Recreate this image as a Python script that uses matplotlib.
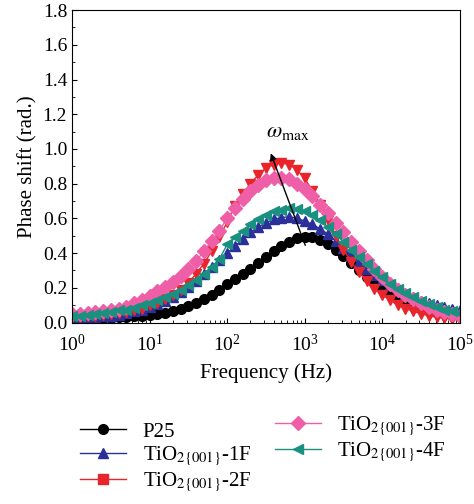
import numpy as np
import matplotlib.pyplot as plt
from matplotlib.lines import Line2D
from matplotlib.ticker import MultipleLocator

plt.rcParams['font.family'] = ['Liberation Serif', 'DejaVu Serif']
plt.rcParams['mathtext.fontset'] = 'stix'

# log10 of frequency, 0.1 decade steps from 1 Hz to 100 kHz
log_freq = np.arange(51) / 10.0

p25 = [0.02, 0.02, 0.02, 0.02, 0.025, 0.025, 0.03, 0.03, 0.035, 0.04, 0.045,
       0.05, 0.057, 0.066, 0.077, 0.097, 0.115, 0.135, 0.16, 0.19, 0.22,
       0.25, 0.28, 0.31, 0.345, 0.38, 0.41, 0.44, 0.465, 0.485, 0.495,
       0.49, 0.475, 0.45, 0.42, 0.385, 0.345, 0.305, 0.265, 0.23, 0.195,
       0.165, 0.14, 0.12, 0.10, 0.085, 0.072, 0.062, 0.053, 0.046, 0.04]
f1 = [0.02, 0.02, 0.025, 0.03, 0.035, 0.04, 0.045, 0.055, 0.065, 0.075, 0.09,
      0.105, 0.125, 0.15, 0.175, 0.205, 0.24, 0.28, 0.32, 0.36, 0.40,
      0.44, 0.48, 0.52, 0.55, 0.575, 0.595, 0.605, 0.61, 0.60, 0.585,
      0.565, 0.54, 0.51, 0.47, 0.43, 0.39, 0.35, 0.31, 0.275, 0.245,
      0.215, 0.19, 0.165, 0.145, 0.125, 0.11, 0.10, 0.09, 0.08, 0.07]
f2 = [0.03, 0.03, 0.035, 0.04, 0.045, 0.05, 0.055, 0.06, 0.07, 0.08, 0.10,
      0.115, 0.135, 0.16, 0.19, 0.23, 0.28, 0.34, 0.41, 0.49, 0.58,
      0.67, 0.74, 0.80, 0.85, 0.89, 0.91, 0.92, 0.91, 0.88, 0.83,
      0.76, 0.68, 0.59, 0.50, 0.42, 0.35, 0.29, 0.24, 0.195, 0.16,
      0.13, 0.10, 0.08, 0.065, 0.05, 0.04, 0.03, 0.025, 0.02, 0.015]
f3 = [0.05, 0.05, 0.055, 0.06, 0.065, 0.07, 0.08, 0.09, 0.11, 0.13, 0.155,
      0.18, 0.205, 0.235, 0.27, 0.31, 0.355, 0.41, 0.47, 0.53, 0.60,
      0.66, 0.71, 0.76, 0.795, 0.82, 0.835, 0.835, 0.825, 0.80, 0.77,
      0.73, 0.68, 0.63, 0.575, 0.52, 0.465, 0.41, 0.36, 0.31, 0.265,
      0.225, 0.19, 0.16, 0.135, 0.11, 0.09, 0.075, 0.06, 0.05, 0.04]
f4 = [0.04, 0.04, 0.045, 0.05, 0.055, 0.06, 0.07, 0.075, 0.085, 0.10, 0.115,
      0.13, 0.145, 0.165, 0.19, 0.215, 0.245, 0.28, 0.32, 0.365, 0.45,
      0.49, 0.53, 0.565, 0.595, 0.62, 0.64, 0.65, 0.66, 0.655, 0.64,
      0.62, 0.59, 0.55, 0.51, 0.465, 0.42, 0.375, 0.335, 0.295, 0.26,
      0.225, 0.195, 0.17, 0.145, 0.125, 0.105, 0.09, 0.075, 0.065, 0.055]

series = [
    ("P25", p25, "black", "o", "o"),
    ("TiO$_{2\\{001\\}}$-1F", f1, "#2b2f9a", "^", "^"),
    ("TiO$_{2\\{001\\}}$-2F", f2, "#e8252a", "v", "s"),
    ("TiO$_{2\\{001\\}}$-3F", f3, "#ef5fa7", "D", "D"),
    ("TiO$_{2\\{001\\}}$-4F", f4, "#1a9080", "<", "<"),
]

fig = plt.figure(figsize=(4.74, 5.04), dpi=100)
ax = fig.add_axes([0.152, 0.36, 0.818, 0.62])
freq = 10 ** log_freq
handles = []
for label, vals, color, marker, legmarker in series:
    ax.plot(freq, vals, color=color, marker=marker, markersize=7,
            linestyle='-', linewidth=1)
    handles.append(Line2D([], [], color=color, marker=legmarker,
                          markersize=7, linewidth=1, label=label))

ax.set_xscale('log')
ax.set_xlim(1, 1e5)
ax.set_ylim(0, 1.8)
ax.yaxis.set_major_locator(MultipleLocator(0.2))
ax.yaxis.set_minor_locator(MultipleLocator(0.1))
ax.yaxis.set_major_formatter(plt.FuncFormatter(lambda v, p: f"{v:.1f}"))
ax.tick_params(which='both', direction='in', labelsize=14)
ax.tick_params(axis='x', pad=8)
ax.set_xlabel("Frequency (Hz)", fontsize=15, labelpad=6)
ax.set_ylabel("Phase shift (rad.)", fontsize=15)

ax.annotate("", xy=(10 ** 2.55, 0.99), xytext=(10 ** 3.02, 0.43),
            arrowprops=dict(arrowstyle='-|>', color='black', lw=1))
ax.text(10 ** 2.5, 1.07, r"$\omega_{\rm max}$", fontsize=16)

fig.legend(handles=handles[:3], loc='upper left', bbox_to_anchor=(0.13, 0.2),
           frameon=False, fontsize=15, handlelength=2.2, labelspacing=0.15)
fig.legend(handles=handles[3:], loc='upper left', bbox_to_anchor=(0.54, 0.215),
           frameon=False, fontsize=15, handlelength=2.2, labelspacing=0.15)

fig.savefig("out.png", dpi=100)
